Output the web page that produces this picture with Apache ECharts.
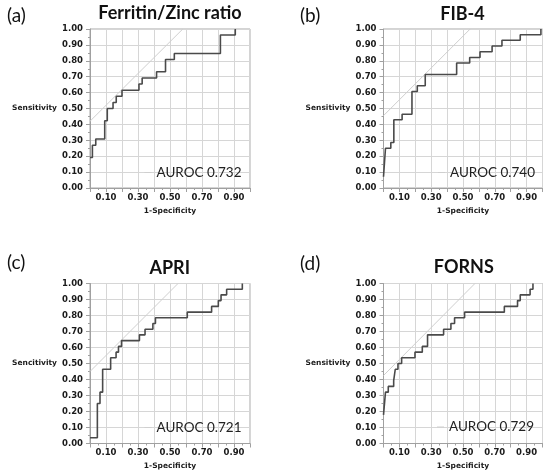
<!DOCTYPE html>
<html>
<head>
<meta charset="utf-8">
<script src="https://cdn.jsdelivr.net/npm/echarts@6/dist/echarts.min.js"></script>
<style>
html,body{margin:0;padding:0;background:#fff;}
#chart{width:550px;height:475px;}
</style>
</head>
<body>
<div id="chart"></div>
<script>
// ---------- data ----------
const panelLetters = ['(a)', '(b)', '(c)', '(d)'];
const panelTitles = ['Ferritin/Zinc ratio', 'FIB-4', 'APRI', 'FORNS'];
const aurocLabels = ['AUROC 0.732', 'AUROC 0.740', 'AUROC 0.721', 'AUROC 0.729'];
const yAxisNames = ['Sensitivity', 'Sensitivity', 'Sencitivity', 'Sensitivity'];
const xAxisName = '1-Specificity';
const xTickLabels = ['0.10', '0.30', '0.50', '0.70', '0.90'];
const yTickLabels = ['0.00', '0.10', '0.20', '0.30', '0.40', '0.50', '0.60', '0.70', '0.80', '0.90', '1.00'];

// ROC step corners (1-specificity, sensitivity)
const fprA = [0, 0.015, 0.036, 0.092, 0.108, 0.144, 0.164, 0.2, 0.306, 0.326, 0.416, 0.472, 0.527, 0.815, 0.908];
const tprA = [0.192, 0.269, 0.308, 0.423, 0.5, 0.538, 0.577, 0.615, 0.654, 0.692, 0.731, 0.808, 0.846, 0.962, 1.0];

const fprB = [0, 0.0125, 0.046, 0.065, 0.117, 0.179, 0.2125, 0.2625, 0.46, 0.542, 0.607, 0.683, 0.745, 0.86, 0.99];
const tprB = [0.071, 0.25, 0.286, 0.429, 0.464, 0.607, 0.643, 0.714, 0.786, 0.821, 0.857, 0.893, 0.929, 0.964, 1.0];

const fprC = [0, 0.046, 0.0625, 0.079, 0.129, 0.163, 0.178, 0.197, 0.309, 0.344, 0.393, 0.409, 0.608, 0.76, 0.802, 0.819, 0.854, 0.952];
const tprC = [0.036, 0.25, 0.321, 0.464, 0.536, 0.571, 0.607, 0.643, 0.679, 0.714, 0.75, 0.786, 0.821, 0.857, 0.893, 0.929, 0.964, 1.0];

const fprD = [0, 0.0125, 0.03, 0.064, 0.074, 0.091, 0.114, 0.198, 0.244, 0.277, 0.378, 0.424, 0.447, 0.51, 0.76, 0.843, 0.86, 0.922, 0.94];
const tprD = [0.179, 0.321, 0.357, 0.393, 0.464, 0.5, 0.536, 0.571, 0.607, 0.679, 0.714, 0.75, 0.786, 0.821, 0.857, 0.893, 0.929, 0.964, 1.0];

// tangent reference lines (endpoints)
const refA_x = [0, 0.58],  refA_y = [0.42, 1.0];
const refB_x = [0, 0.545], refB_y = [0.455, 1.0];
const refC_x = [0, 0.55],  refC_y = [0.45, 1.0];
const refD_x = [0, 0.575], refD_y = [0.425, 1.0];

// ---------- layout ----------
const grids = [
  {left: 90,    top: 29,    width: 160, height: 159},
  {left: 383.5, top: 29,    width: 159, height: 159},
  {left: 90,    top: 283.5, width: 160, height: 160},
  {left: 383.5, top: 283.5, width: 159, height: 160}
];
const letterPos = [[7, 15.5], [300, 15.8], [7, 262.5], [300, 264]];
const titlePos = [[170, 13.5], [462.5, 14], [169.7, 268], [463.8, 267.5]];
const legendPos = [[144.5, 165.5], [438, 165.5], [144.5, 420.5], [437, 420]];

const zip = (xs, ys) => xs.map((x, i) => [x, ys[i]]);
const rocs = [zip(fprA, tprA), zip(fprB, tprB), zip(fprC, tprC), zip(fprD, tprD)];
const refs = [zip(refA_x, refA_y), zip(refB_x, refB_y), zip(refC_x, refC_y), zip(refD_x, refD_y)];

const axisFont = {fontFamily: 'DejaVu Sans', fontWeight: 'bold', fontSize: 8.5, color: '#1a1a1a'};
const nameFont = {fontFamily: 'DejaVu Sans', fontWeight: 'bold', fontSize: 7.5, color: '#1a1a1a'};
const lineGray = '#a0a0a0';

const option = {
  backgroundColor: '#fff',
  animation: false,
  grid: grids.map(g => Object.assign({show: true, borderColor: '#a8a8a8', borderWidth: 1, containLabel: false}, g)),
  xAxis: grids.map((g, i) => ({
    type: 'value', gridIndex: i, min: 0, max: 1, interval: 0.1,
    name: xAxisName, nameLocation: 'middle', nameGap: 19, nameTextStyle: nameFont,
    axisLine: {show: true, lineStyle: {color: lineGray, width: 1}},
    axisTick: {show: true, length: 4, lineStyle: {color: lineGray}},
    minorTick: {show: true, splitNumber: 2, length: 2, lineStyle: {color: lineGray}},
    splitLine: {show: true, lineStyle: {color: '#d6d6d6', width: 1}},
    axisLabel: Object.assign({margin: 5, showMinLabel: true, showMaxLabel: true,
      formatter: v => xTickLabels.includes(v.toFixed(2)) ? v.toFixed(2) : ''}, axisFont)
  })),
  yAxis: grids.map((g, i) => ({
    type: 'value', gridIndex: i, min: 0, max: 1, interval: 0.1,
    name: yAxisNames[i], nameLocation: 'middle', nameRotate: 0, nameGap: 33, nameTextStyle: nameFont,
    axisLine: {show: true, lineStyle: {color: lineGray, width: 1}},
    axisTick: {show: true, length: 4, lineStyle: {color: lineGray}},
    minorTick: {show: true, splitNumber: 2, length: 2, lineStyle: {color: lineGray}},
    splitLine: {show: true, lineStyle: {color: '#d6d6d6', width: 1}},
    axisLabel: Object.assign({margin: 7,
      formatter: v => yTickLabels.includes(v.toFixed(2)) ? v.toFixed(2) : ''}, axisFont)
  })),
  legend: grids.map((g, i) => ({
    data: [{name: aurocLabels[i], icon: 'rect'}],
    left: legendPos[i][0], top: legendPos[i][1],
    padding: 0, itemWidth: 7, itemHeight: 1, itemGap: 0, selectedMode: false,
    textStyle: {fontFamily: 'Lato', fontSize: 13.5, color: '#222'}
  })),
  series: [
    ...refs.map((d, i) => ({
      type: 'line', name: aurocLabels[i], xAxisIndex: i, yAxisIndex: i, data: d,
      symbol: 'none', silent: true,
      itemStyle: {color: '#cfcfcf'}, lineStyle: {color: '#cfcfcf', width: 1}
    })),
    ...rocs.map((d, i) => ({
      type: 'line', name: panelTitles[i], xAxisIndex: i, yAxisIndex: i, data: d,
      step: 'end', symbol: 'none', silent: true,
      itemStyle: {color: '#4a4a4a'}, lineStyle: {color: '#4a4a4a', width: 1.6}
    }))
  ],
  graphic: [
    ...panelLetters.map((t, i) => ({
      type: 'text', x: letterPos[i][0], y: letterPos[i][1],
      style: {text: t, fontFamily: 'Lato', fontSize: 19, fill: '#111', align: 'left', verticalAlign: 'middle'}
    })),
    ...panelTitles.map((t, i) => ({
      type: 'text', x: titlePos[i][0], y: titlePos[i][1],
      style: {text: t, fontFamily: 'Lato', fontWeight: 'bold', fontSize: 18, fill: '#111', align: 'center', verticalAlign: 'middle'}
    }))
  ]
};

const chart = echarts.init(document.getElementById('chart'), null, {renderer: 'canvas'});
chart.setOption(option);
</script>
</body>
</html>
